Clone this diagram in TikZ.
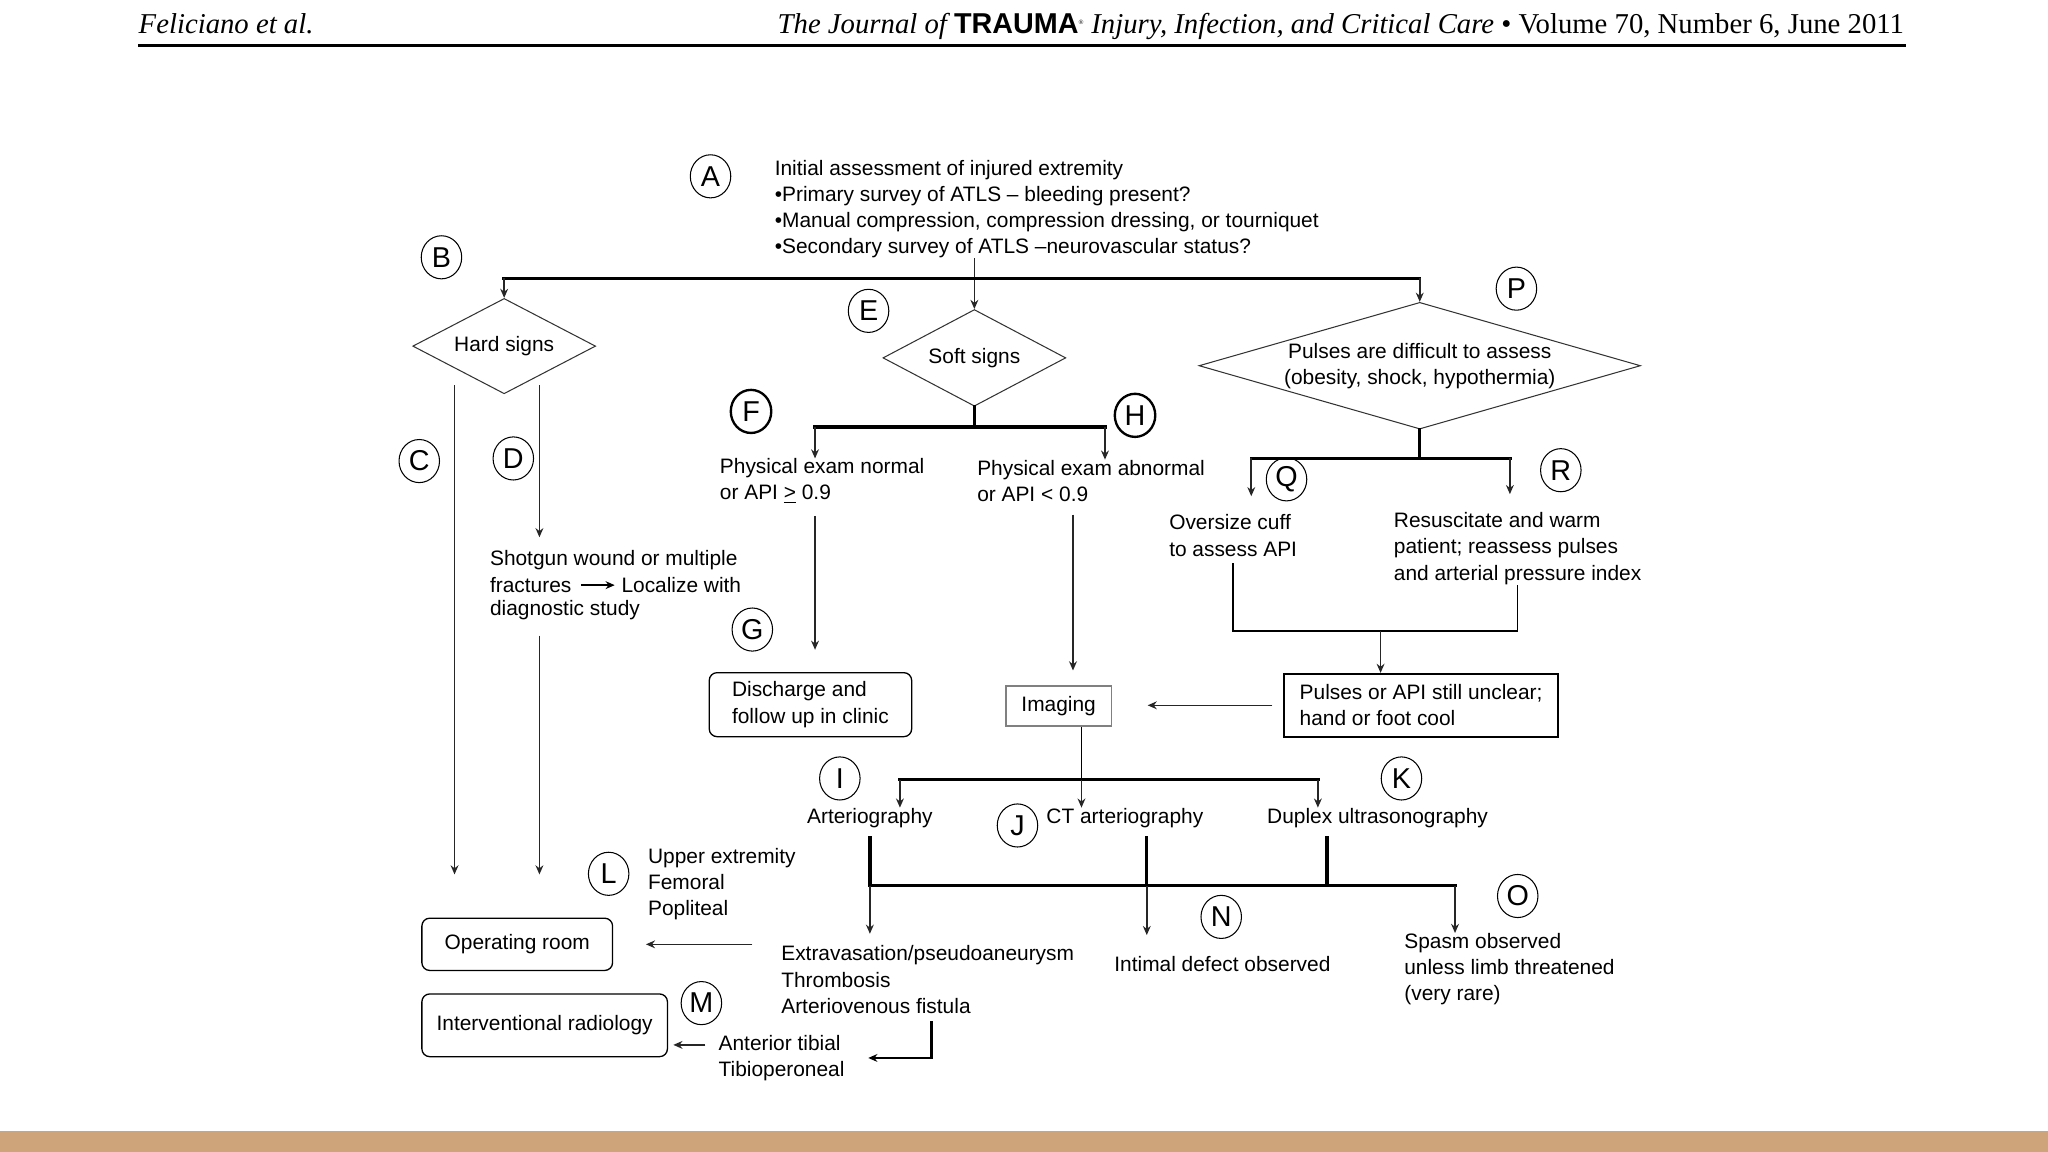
\documentclass[tikz,border=0pt]{standalone}
\usepackage{fontspec}
\setmainfont{Liberation Sans}
\setsansfont{Liberation Sans}
\newfontfamily\headfont{Liberation Serif}
\usetikzlibrary{shapes.geometric, positioning, arrows.meta, calc}
\definecolor{bartan}{RGB}{206,164,122}
\tikzset{
    >={Stealth[length=7pt, width=6pt]}, % small filled arrow heads
    every node/.style={font=\fontsize{16}{20}\selectfont}, % text of the chart
    letter/.style={ellipse, draw, line width=0.8pt, minimum width=31pt, minimum height=33pt, inner sep=0pt, font=\fontsize{22}{22}\selectfont}, % circled step letters
    boldletter/.style={letter, line width=1.8pt},
    sign/.style={diamond, draw=black!80, line width=0.8pt, inner sep=0pt}, % decision shapes
    txt/.style={align=left, anchor=west, inner sep=0pt}, % free text, placed by its left edge
    roundbox/.style={draw, rounded corners=6pt, line width=1pt, align=left},
    plainbox/.style={draw, align=left},
    bus/.style={line width=2.6pt, line cap=rect}, % the thick branch lines
    link/.style={->, line width=1.2pt, draw=black!85}, % thin arrows
}

\begin{document}
\begin{tikzpicture}[x=1pt, y=-1pt]
    \useasboundingbox (0,0) rectangle (1568,882);
    % page header and footer band
    \node[anchor=base west, inner sep=0pt, font=\headfont\itshape\fontsize{22}{22}\selectfont] (author) at (106,26) {Feliciano et al.};
    \node[anchor=base east, inner sep=0pt, font=\headfont\fontsize{22}{22}\selectfont] (journal) at (1458,26)
        {\itshape The Journal of \upshape{\sffamily\bfseries TRAUMA}\textsuperscript{\tiny ®} \itshape Injury, Infection, and Critical Care \upshape • Volume 70, Number 6, June 2011};
    \draw[line width=2.5pt] (106,35) -- (1459,35);
    \fill[bartan] (0,866) rectangle (1568,882);

    % circled letters
    \node[letter] (A) at (544,135) {A};
    \node[letter] (B) at (338,197) {B};
    \node[letter] (C) at (321,353) {C};
    \node[letter] (D) at (393,351) {D};
    \node[letter] (E) at (665,238) {E};
    \node[boldletter] (F) at (575,315) {F};
    \node[letter] (G) at (576,482) {G};
    \node[boldletter] (H) at (869,318) {H};
    \node[letter] (I) at (643,596) {I};
    \node[letter] (J) at (779,632) {J};
    \node[letter] (K) at (1073,596) {K};
    \node[letter] (L) at (466,669) {L};
    \node[letter] (M) at (537,768) {M};
    \node[letter] (N) at (935,702) {N};
    \node[letter] (O) at (1162,686) {O};
    \node[letter] (P) at (1161,221) {P};
    \node[letter] (Q) at (985,367) {Q};
    \node[letter] (R) at (1195,360) {R};

    % steps
    \node[txt] (atext) at (593,160) {Initial assessment of injured extremity\\•Primary survey of ATLS – bleeding present?\\•Manual compression, compression dressing, or tourniquet\\•Secondary survey of ATLS –neurovascular status?};
    \node[sign, aspect=1.9, minimum width=140pt, minimum height=73pt] (hard) at (386,265) {Hard signs};
    \node[sign, aspect=1.9, minimum width=140pt, minimum height=74pt] (soft) at (746,274) {Soft signs};
    \node[sign, aspect=3.5, minimum width=338pt, minimum height=97pt, align=center] (pulse) at (1087,280) {Pulses are difficult to assess\\(obesity, shock, hypothermia)};
    \node[txt] (fnorm) at (551,368) {Physical exam normal\\or API \underline{>} 0.9};
    \node[txt] (fabn) at (748,368) {Physical exam abnormal\\or API < 0.9};
    \node[txt] (oversize) at (895,410) {Oversize cuff\\to assess API};
    \node[txt] (resus) at (1067,420) {Resuscitate and warm\\patient; reassess pulses\\and arterial pressure index};
    \node[txt] (shot1) at (375,429) {Shotgun wound or multiple};
    \node[txt] (shot2) at (375,448) {fractures};
    \node[txt, right=38pt of shot2] (loc) {Localize with};
    \node[txt] (shot3) at (375,467) {diagnostic study};
    \node[roundbox, minimum width=155pt, minimum height=49pt] (discharge) at (620.5,539.5) {Discharge and\\follow up in clinic};
    \node[plainbox, draw=black!50, line width=1.3pt, minimum width=81pt, minimum height=31pt] (imaging) at (810.5,540.5) {Imaging};
    \node[plainbox, line width=1.6pt, minimum width=210pt, minimum height=48pt] (unclear) at (1088,540) {Pulses or API still unclear;\\hand or foot cool};
    \node[inner sep=0pt] (arterio) at (666,626) {Arteriography};
    \node[txt] (ctart) at (801,626) {CT arteriography};
    \node[txt] (duplex) at (970,626) {Duplex ultrasonography};
    \node[txt] (upper) at (496,677) {Upper extremity\\Femoral\\Popliteal};
    \node[txt] (extrav) at (598,750) {Extravasation/pseudoaneurysm\\Thrombosis\\Arteriovenous fistula};
    \node[txt] (intimal) at (853,738) {Intimal defect observed};
    \node[txt] (spasm) at (1075,742) {Spasm observed\\unless limb threatened\\(very rare)};
    \node[txt] (tibial) at (550,810) {Anterior tibial\\Tibioperoneal};
    \node[roundbox, minimum width=146pt, minimum height=40pt] (orroom) at (396,723) {Operating room};
    \node[roundbox, minimum width=188pt, minimum height=48pt] (intrad) at (417,785) {Interventional radiology};

    % branch points
    \coordinate (topbus) at (747,213);
    \coordinate (fl) at (624,327);
    \coordinate (fr) at (846,327);
    \coordinate (ql) at (958,351);
    \coordinate (qr) at (1156,351);
    \coordinate (qrjoin) at (1057,483);
    \coordinate (colC) at (348,295);
    \coordinate (colD) at (413,295);
    \coordinate (mi) at (689,597);
    \coordinate (mj) at (828,597);
    \coordinate (mk) at (1009,597);
    \coordinate (ri) at (666,678);
    \coordinate (rn) at (878,678);
    \coordinate (rk) at (1016,678);
    \coordinate (ro) at (1114,678);

    % initial assessment
    \draw[link] (soft.north |- atext.south) -- (soft.north);
    \draw[bus] (hard.north |- topbus) -- (pulse.north |- topbus);
    \draw[link] (hard.north |- topbus) -- (hard.north);
    \draw[link] (pulse.north |- topbus) -- (pulse.north);
    % hard signs
    \draw[link, shorten >=33pt] (colC) -- (colC |- orroom.north);
    \draw[link, shorten >=10pt] (colD) -- (colD |- shot1.north);
    \draw[->, line width=1.6pt, shorten <=7pt, shorten >=5pt] (shot2.east) -- (loc.west);
    \draw[link, shorten <=12pt, shorten >=33pt] (colD |- shot3.south) -- (colD |- orroom.north);
    % soft signs
    \draw[bus] (soft.south) -- (soft.south |- fl);
    \draw[bus] (fl) -- (fr);
    \draw[link] (fl) -- (fl |- fnorm.north);
    \draw[link] (fr) -- (fr |- fabn.north);
    \draw[link, shorten <=10pt, shorten >=17pt] (fl |- fnorm.south) -- (fl |- discharge.north);
    \draw[link, shorten <=10pt, shorten >=11pt] ([xshift=11pt]imaging.north |- fabn.south) -- ([xshift=11pt]imaging.north);
    % pulses difficult
    \draw[bus] (pulse.south) -- (pulse.south |- ql);
    \draw[bus] (ql) -- (qr);
    \draw[link, shorten >=14pt] (ql) -- (ql |- oversize.north);
    \draw[link, shorten >=14pt] (qr) -- (qr |- resus.north);
    \draw[line width=1.2pt, shorten <=5pt] (oversize.south) |- (qrjoin) -| (resus.south);
    \draw[link] (qrjoin) -- (qrjoin |- unclear.north);
    \draw[link, shorten <=8pt, shorten >=27pt] (unclear.west) -- (unclear.west -| imaging.east);
    % imaging
    \draw[line width=1.2pt] (mj |- imaging.south) -- (mj);
    \draw[bus] (mi) -- (mk);
    \draw[link] (mi) -- (mi |- arterio.north);
    \draw[link] (mj) -- (mj |- ctart.north);
    \draw[link] (mk) -- (mk |- duplex.north);
    % findings
    \draw[bus, shorten <=8pt] (ri |- arterio.south) -- (ri) -- (ro);
    \draw[bus, shorten <=8pt] (rn |- ctart.south) -- (rn);
    \draw[bus, shorten <=8pt] (rk |- duplex.south) -- (rk);
    \draw[link, shorten >=9pt] (ri) -- (ri |- extrav.north);
    \draw[link, shorten >=16pt] (rn) -- (rn |- intimal.north);
    \draw[link] (ro) -- (ro |- spasm.north);
    % treatment
    \draw[link, shorten <=22pt, shorten >=25pt] (extrav.west |- orroom.east) -- (orroom.east);
    \draw[->, line width=2pt, shorten <=6pt, shorten >=18pt] ([xshift=3pt]extrav.south) |- (tibial.east);
    \draw[link, shorten <=10pt, shorten >=4pt] ([yshift=10pt]tibial.west) -- ([yshift=10pt]tibial.west -| intrad.east);
\end{tikzpicture}
\end{document}
